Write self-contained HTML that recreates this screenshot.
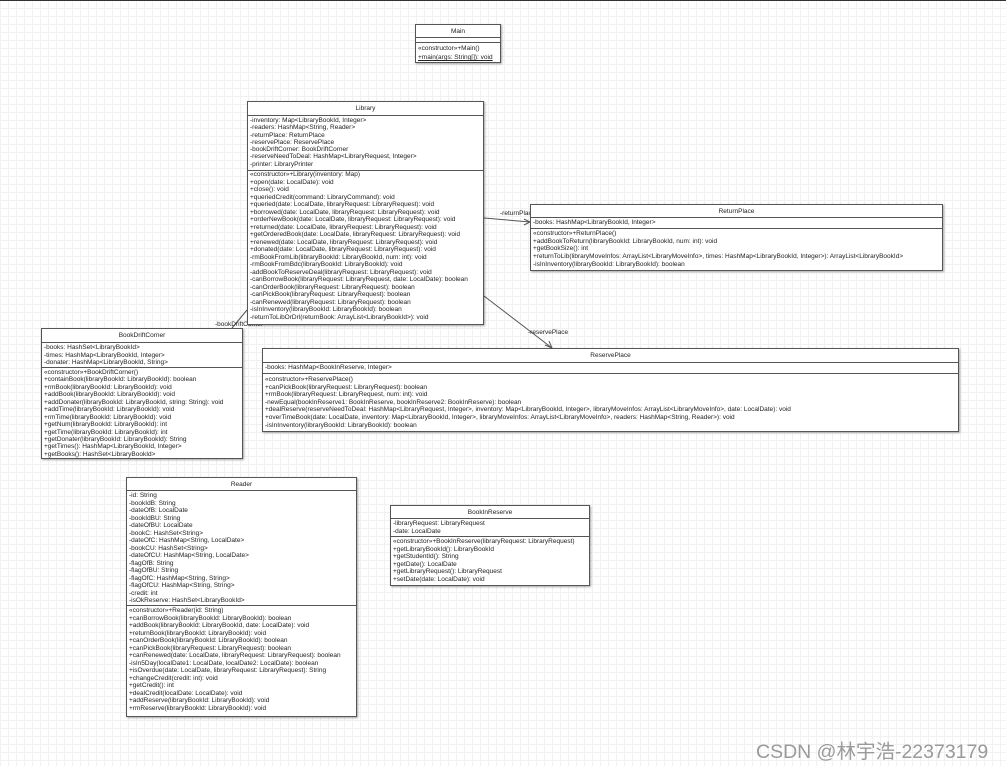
<!DOCTYPE html>
<html><head><meta charset="utf-8"><style>
html,body{margin:0;padding:0}
body{width:1006px;height:766px;position:relative;overflow:hidden;background-color:#fff;
background-image:linear-gradient(#f1f1f1 1px,transparent 1px),linear-gradient(90deg,#f1f1f1 1px,transparent 1px);
background-size:8px 8px;font-family:"Liberation Sans",Arial,sans-serif;}
.top{position:absolute;left:0;top:0;width:1006px;height:1px;background:#333}
.box{position:absolute;background:#fff;border:1px solid #555;box-shadow:1px 1px 2px rgba(0,0,0,.35);box-sizing:border-box}
.t{font-size:6.5px;text-align:center;color:#222;border-bottom:1px solid #555;box-sizing:border-box}
.s{font-size:6.5px;color:#222;padding-left:2px;white-space:nowrap;box-sizing:border-box}
.s div{height:var(--lh);line-height:var(--lh)}
.sep{border-bottom:1px solid #555}
.lbl{position:absolute;font-size:6.5px;color:#222;white-space:nowrap}
svg{position:absolute;left:0;top:0}
.wm{position:absolute;left:756px;top:735px;font-size:19.5px;color:#9a9a9a;font-family:"Liberation Sans","Noto Sans CJK SC",sans-serif;white-space:nowrap}
</style></head><body>
<div class="top"></div>
<svg width="1006" height="766">
<g stroke="#555" stroke-width="1" fill="none">
<line x1="484" y1="218" x2="530" y2="222"/>
<polyline points="524,219 530,222 524,225"/>
<line x1="484" y1="296" x2="552" y2="348"/>
<polyline points="545,345 552,348 549,341"/>
<line x1="247" y1="310" x2="232" y2="328"/>
</g></svg>
<div class="lbl" style="left:500px;top:210px">-returnPlace</div>
<div class="lbl" style="left:528px;top:329px">-reservePlace</div>
<div class="lbl" style="left:215px;top:321px">-bookDriftCorner</div>

<!-- Main -->
<div class="box" style="left:415px;top:24px;width:86px;height:39px">
<div class="t" style="height:13px;line-height:13px">Main</div>
<div class="s sep" style="height:5px"></div>
<div class="s" style="--lh:9px;padding-top:1px"><div>«constructor»+Main()</div><div style="text-decoration:underline">+main(args: String[]): void</div></div>
</div>

<!-- Library -->
<div class="box" style="left:247px;top:101px;width:237px;height:224px">
<div class="t" style="height:14px;line-height:14px">Library</div>
<div class="s sep" style="--lh:7.3px;padding-top:1px;height:55px">
<div>-inventory: Map&lt;LibraryBookId, Integer&gt;</div><div>-readers: HashMap&lt;String, Reader&gt;</div><div>-returnPlace: ReturnPlace</div><div>-reservePlace: ReservePlace</div><div>-bookDriftCorner: BookDriftCorner</div><div>-reserveNeedToDeal: HashMap&lt;LibraryRequest, Integer&gt;</div><div>-printer: LibraryPrinter</div></div>
<div class="s" style="--lh:7.5px;padding-top:0px">
<div>«constructor»+Library(inventory: Map)</div><div>+open(date: LocalDate): void</div><div>+close(): void</div><div>+queriedCredit(command: LibraryCommand): void</div><div>+queried(date: LocalDate, libraryRequest: LibraryRequest): void</div><div>+borrowed(date: LocalDate, libraryRequest: LibraryRequest): void</div><div>+orderNewBook(date: LocalDate, libraryRequest: LibraryRequest): void</div><div>+returned(date: LocalDate, libraryRequest: LibraryRequest): void</div><div>+getOrderedBook(date: LocalDate, libraryRequest: LibraryRequest): void</div><div>+renewed(date: LocalDate, libraryRequest: LibraryRequest): void</div><div>+donated(date: LocalDate, libraryRequest: LibraryRequest): void</div><div>-rmBookFromLib(libraryBookId: LibraryBookId, num: int): void</div><div>-rmBookFromBdc(libraryBookId: LibraryBookId): void</div><div>-addBookToReserveDeal(libraryRequest: LibraryRequest): void</div><div>-canBorrowBook(libraryRequest: LibraryRequest, date: LocalDate): boolean</div><div>-canOrderBook(libraryRequest: LibraryRequest): boolean</div><div>-canPickBook(libraryRequest: LibraryRequest): boolean</div><div>-canRenewed(libraryRequest: LibraryRequest): boolean</div><div>-isInInventory(libraryBookId: LibraryBookId): boolean</div><div>-returnToLibOrDrl(returnBook: ArrayList&lt;LibraryBookId&gt;): void</div></div>
</div>

<!-- ReturnPlace -->
<div class="box" style="left:530px;top:204px;width:413px;height:67px">
<div class="t" style="height:13px;line-height:13px">ReturnPlace</div>
<div class="s sep" style="--lh:8px;padding-top:1px;height:11px"><div>-books: HashMap&lt;LibraryBookId, Integer&gt;</div></div>
<div class="s" style="--lh:7.7px;padding-top:1px"><div>«constructor»+ReturnPlace()</div><div>+addBookToReturn(libraryBookId: LibraryBookId, num: int): void</div><div>+getBookSize(): int</div><div>+returnToLib(libraryMoveInfos: ArrayList&lt;LibraryMoveInfo&gt;, times: HashMap&lt;LibraryBookId, Integer&gt;): ArrayList&lt;LibraryBookId&gt;</div><div>-isInInventory(libraryBookId: LibraryBookId): boolean</div></div>
</div>

<!-- ReservePlace -->
<div class="box" style="left:262px;top:348px;width:697px;height:84px">
<div class="t" style="height:14px;line-height:14px">ReservePlace</div>
<div class="s sep" style="--lh:8px;padding-top:1px;height:11px"><div>-books: HashMap&lt;BookInReserve, Integer&gt;</div></div>
<div class="s" style="--lh:7.6px;padding-top:2px"><div>«constructor»+ReservePlace()</div><div>+canPickBook(libraryRequest: LibraryRequest): boolean</div><div>+rmBook(libraryRequest: LibraryRequest, num: int): void</div><div>-newEqual(bookInReserve1: BookInReserve, bookInReserve2: BookInReserve): boolean</div><div>+dealReserve(reserveNeedToDeal: HashMap&lt;LibraryRequest, Integer&gt;, inventory: Map&lt;LibraryBookId, Integer&gt;, libraryMoveInfos: ArrayList&lt;LibraryMoveInfo&gt;, date: LocalDate): void</div><div>+overTimeBook(date: LocalDate, inventory: Map&lt;LibraryBookId, Integer&gt;, libraryMoveInfos: ArrayList&lt;LibraryMoveInfo&gt;, readers: HashMap&lt;String, Reader&gt;): void</div><div>-isInInventory(libraryBookId: LibraryBookId): boolean</div></div>
</div>

<!-- BookDriftCorner -->
<div class="box" style="left:41px;top:328px;width:202px;height:131px">
<div class="t" style="height:14px;line-height:14px">BookDriftCorner</div>
<div class="s sep" style="--lh:7.5px;padding-top:1px;height:25px"><div>-books: HashSet&lt;LibraryBookId&gt;</div><div>-times: HashMap&lt;LibraryBookId, Integer&gt;</div><div>-donater: HashMap&lt;LibraryBookId, String&gt;</div></div>
<div class="s" style="--lh:7.45px;padding-top:1px"><div>«constructor»+BookDriftCorner()</div><div>+containBook(libraryBookId: LibraryBookId): boolean</div><div>+rmBook(libraryBookId: LibraryBookId): void</div><div>+addBook(libraryBookId: LibraryBookId): void</div><div>+addDonater(libraryBookId: LibraryBookId, string: String): void</div><div>+addTime(libraryBookId: LibraryBookId): void</div><div>+rmTime(libraryBookId: LibraryBookId): void</div><div>+getNum(libraryBookId: LibraryBookId): int</div><div>+getTime(libraryBookId: LibraryBookId): int</div><div>+getDonater(libraryBookId: LibraryBookId): String</div><div>+getTimes(): HashMap&lt;LibraryBookId, Integer&gt;</div><div>+getBooks(): HashSet&lt;LibraryBookId&gt;</div></div>
</div>

<!-- Reader -->
<div class="box" style="left:126px;top:477px;width:231px;height:240px">
<div class="t" style="height:13px;line-height:13px">Reader</div>
<div class="s sep" style="--lh:7.5px;padding-top:1px;height:115px"><div>-id: String</div><div>-bookIdB: String</div><div>-dateOfB: LocalDate</div><div>-bookIdBU: String</div><div>-dateOfBU: LocalDate</div><div>-bookC: HashSet&lt;String&gt;</div><div>-dateOfC: HashMap&lt;String, LocalDate&gt;</div><div>-bookCU: HashSet&lt;String&gt;</div><div>-dateOfCU: HashMap&lt;String, LocalDate&gt;</div><div>-flagOfB: String</div><div>-flagOfBU: String</div><div>-flagOfC: HashMap&lt;String, String&gt;</div><div>-flagOfCU: HashMap&lt;String, String&gt;</div><div>-credit: int</div><div>-isOkReserve: HashSet&lt;LibraryBookId&gt;</div></div>
<div class="s" style="--lh:7.5px;padding-top:1px"><div>«constructor»+Reader(id: String)</div><div>+canBorrowBook(libraryBookId: LibraryBookId): boolean</div><div>+addBook(libraryBookId: LibraryBookId, date: LocalDate): void</div><div>+returnBook(libraryBookId: LibraryBookId): void</div><div>+canOrderBook(libraryBookId: LibraryBookId): boolean</div><div>+canPickBook(libraryRequest: LibraryRequest): boolean</div><div>+canRenewed(date: LocalDate, libraryRequest: LibraryRequest): boolean</div><div>-isIn5Day(localDate1: LocalDate, localDate2: LocalDate): boolean</div><div>+isOverdue(date: LocalDate, libraryRequest: LibraryRequest): String</div><div>+changeCredit(credit: int): void</div><div>+getCredit(): int</div><div>+dealCredit(localDate: LocalDate): void</div><div>+addReserve(libraryBookId: LibraryBookId): void</div><div>+rmReserve(libraryBookId: LibraryBookId): void</div></div>
</div>

<!-- BookInReserve -->
<div class="box" style="left:390px;top:505px;width:200px;height:81px">
<div class="t" style="height:13px;line-height:13px">BookInReserve</div>
<div class="s sep" style="--lh:8px;padding-top:1px;height:18px"><div>-libraryRequest: LibraryRequest</div><div>-date: LocalDate</div></div>
<div class="s" style="--lh:7.6px;padding-top:1px"><div>«constructor»+BookInReserve(libraryRequest: LibraryRequest)</div><div>+getLibraryBookId(): LibraryBookId</div><div>+getStudentId(): String</div><div>+getDate(): LocalDate</div><div>+getLibraryRequest(): LibraryRequest</div><div>+setDate(date: LocalDate): void</div></div>
</div>

<div class="wm">CSDN @林宇浩-22373179</div>
</body></html>
